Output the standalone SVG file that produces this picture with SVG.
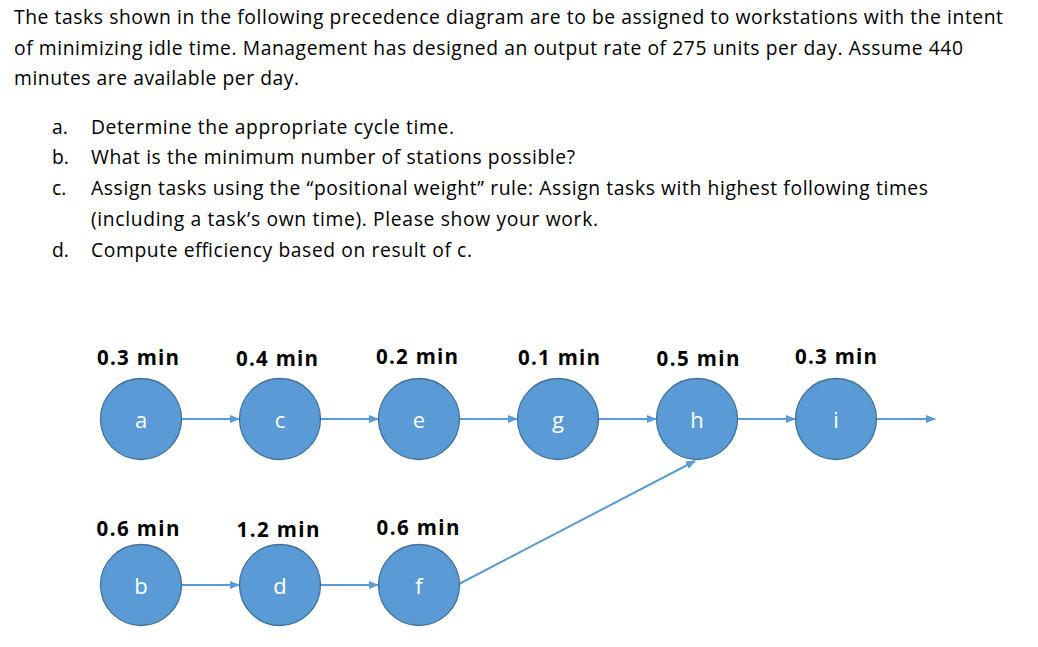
<svg xmlns="http://www.w3.org/2000/svg" width="1038" height="647" viewBox="0 0 1038 647">
<style>
.p{font-family:"Open Sans",Lato,"Liberation Sans",sans-serif;font-size:19.3px;fill:#000}
.t{font-family:"Open Sans","Liberation Sans",sans-serif;font-size:20.5px;font-weight:bold;fill:#000;text-anchor:middle}
.n{fill:#5B9BD5;stroke:#41719C;stroke-width:1.3}
.l{font-family:"Open Sans","Liberation Sans",sans-serif;font-size:22px;fill:#fff;text-anchor:middle}
.c{stroke:#5B9BD5;stroke-width:2;fill:none;marker-end:url(#ah)}
</style>
<defs>
<marker id="ah" markerWidth="10" markerHeight="8" refX="9" refY="4" orient="auto" markerUnits="userSpaceOnUse">
<path d="M0,0 L10,4 L0,8 Z" fill="#5B9BD5"/>
</marker>
</defs>
<rect width="1038" height="647" fill="#fff"/>
<g id="text">
<text class="p" x="14" y="24" textLength="989">The tasks shown in the following precedence diagram are to be assigned to workstations with the intent</text>
<text class="p" x="14" y="55" textLength="949">of minimizing idle time. Management has designed an output rate of 275 units per day. Assume 440</text>
<text class="p" x="14" y="85" textLength="285">minutes are available per day.</text>
<text class="p" x="52" y="134">a.</text>
<text class="p" x="91" y="134" textLength="363">Determine the appropriate cycle time.</text>
<text class="p" x="52" y="164">b.</text>
<text class="p" x="91" y="164" textLength="484">What is the minimum number of stations possible?</text>
<text class="p" x="52" y="195">c.</text>
<text class="p" x="91" y="195" textLength="837">Assign tasks using the “positional weight” rule: Assign tasks with highest following times</text>
<text class="p" x="91" y="226" textLength="507">(including a task’s own time). Please show your work.</text>
<text class="p" x="52" y="257">d.</text>
<text class="p" x="91" y="257" textLength="381">Compute efficiency based on result of c.</text>
</g>
<g id="connectors">
<line class="c" x1="182" y1="419" x2="239" y2="419"/>
<line class="c" x1="321" y1="419" x2="378" y2="419"/>
<line class="c" x1="460" y1="419" x2="517" y2="419"/>
<line class="c" x1="599" y1="419" x2="656" y2="419"/>
<line class="c" x1="738" y1="419" x2="795" y2="419"/>
<line class="c" x1="877" y1="419" x2="935" y2="419"/>
<line class="c" x1="182" y1="585" x2="239" y2="585"/>
<line class="c" x1="321" y1="585" x2="378" y2="585"/>
<line class="c" x1="459" y1="584" x2="695" y2="461"/>
</g>
<g id="node-a"><text class="t" x="138" y="365" textLength="82">0.3 min</text><circle class="n" cx="141" cy="419" r="40.5"/><text class="l" x="141" y="428">a</text></g>
<g id="node-c"><text class="t" x="277" y="366" textLength="82">0.4 min</text><circle class="n" cx="280" cy="419" r="40.5"/><text class="l" x="280" y="428">c</text></g>
<g id="node-e"><text class="t" x="417" y="364" textLength="82">0.2 min</text><circle class="n" cx="419" cy="419" r="40.5"/><text class="l" x="419" y="428">e</text></g>
<g id="node-g"><text class="t" x="559" y="365" textLength="82">0.1 min</text><circle class="n" cx="558" cy="419" r="40.5"/><text class="l" x="558" y="428">g</text></g>
<g id="node-h"><text class="t" x="698" y="366" textLength="83">0.5 min</text><circle class="n" cx="697" cy="419" r="40.5"/><text class="l" x="697" y="428">h</text></g>
<g id="node-i"><text class="t" x="836" y="364" textLength="82">0.3 min</text><circle class="n" cx="836" cy="419" r="40.5"/><text class="l" x="836" y="428">i</text></g>
<g id="node-b"><text class="t" x="138" y="536" textLength="83">0.6 min</text><circle class="n" cx="141" cy="585" r="40.5"/><text class="l" x="141" y="594">b</text></g>
<g id="node-d"><text class="t" x="278" y="537" textLength="83">1.2 min</text><circle class="n" cx="280" cy="585" r="40.5"/><text class="l" x="280" y="594">d</text></g>
<g id="node-f"><text class="t" x="418" y="535" textLength="83">0.6 min</text><circle class="n" cx="419" cy="585" r="40.5"/><text class="l" x="419" y="594">f</text></g>
</svg>
